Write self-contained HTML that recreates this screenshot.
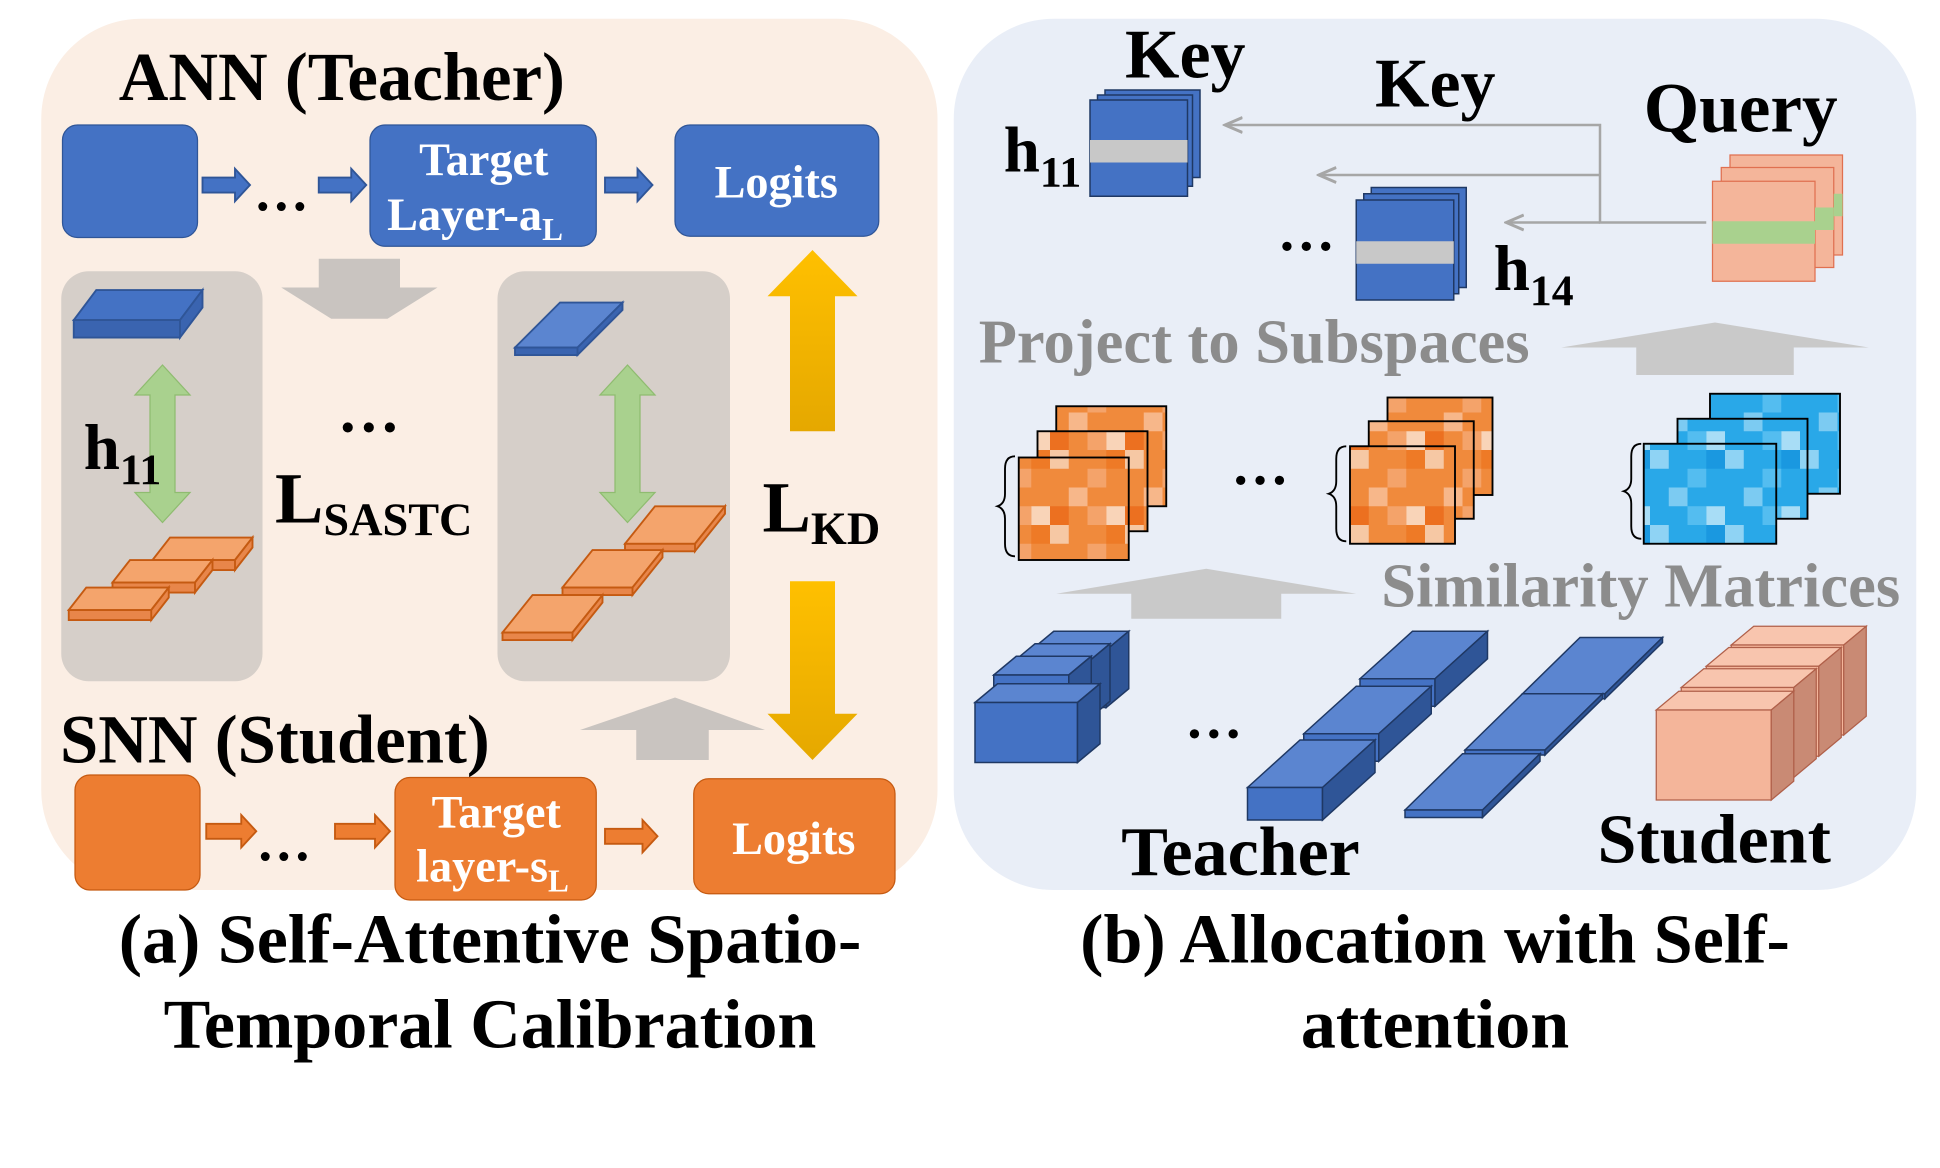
<!DOCTYPE html>
<html><head><meta charset="utf-8"><style>
html,body{margin:0;padding:0;background:#fff;}
svg{display:block;}
text{font-family:"Liberation Serif",serif;font-weight:bold;}
</style></head><body>
<svg width="1940" height="1168" viewBox="0 0 1552 934.4" xmlns="http://www.w3.org/2000/svg">
<defs>
<pattern id="po" width="60" height="60" patternUnits="userSpaceOnUse">
<rect width="60" height="60" fill="#f08a3c"/>
<rect x="0" y="0" width="15" height="15" fill="#f6c8a4"/><rect x="30" y="15" width="15" height="15" fill="#f4a36a"/>
<rect x="45" y="0" width="15" height="15" fill="#ee7a26"/><rect x="15" y="30" width="15" height="15" fill="#f7b78a"/>
<rect x="45" y="45" width="15" height="15" fill="#f9d4b8"/><rect x="0" y="45" width="15" height="15" fill="#ec7020"/>
<rect x="30" y="45" width="15" height="15" fill="#f4a36a"/>
</pattern>
<pattern id="pb" width="60" height="60" patternUnits="userSpaceOnUse">
<rect width="60" height="60" fill="#29a8e8"/>
<rect x="0" y="0" width="15" height="15" fill="#8fd3f4"/><rect x="30" y="15" width="15" height="15" fill="#54bdf0"/>
<rect x="45" y="0" width="15" height="15" fill="#1a98e0"/><rect x="15" y="30" width="15" height="15" fill="#7ccbf2"/>
<rect x="45" y="45" width="15" height="15" fill="#a8ddf6"/><rect x="30" y="45" width="15" height="15" fill="#54bdf0"/>
</pattern>
<linearGradient id="gy" x1="0" y1="0" x2="0" y2="1"><stop offset="0" stop-color="#ffc000"/><stop offset="1" stop-color="#e5a800"/></linearGradient>
<marker id="ma" markerWidth="8" markerHeight="8" refX="7" refY="4" orient="auto"><path d="M0,1 L7,4 L0,7" fill="none" stroke="#a6a6a6" stroke-width="1.2"/></marker>
</defs>
<rect x="33" y="15" width="717" height="697" rx="80" fill="#fbeee4"/>
<rect x="763" y="15" width="770" height="697" rx="80" fill="#e9eef7"/>

<text x="95" y="80" font-size="55">ANN (Teacher)</text>
<rect x="50" y="100" width="108" height="90" rx="12" fill="#4472c4" stroke="#2f5597"/>
<g fill="#4472c4" stroke="#2f5597" stroke-width="1.5">
<path d="M162,142 h26 v-7 l12,13 -12,13 v-7 h-26z"/>
<path d="M255,142 h26 v-7 l12,13 -12,13 v-7 h-26z"/>
<path d="M484,142 h26 v-7 l12,13 -12,13 v-7 h-26z"/>
</g>
<text x="203" y="168" font-size="44">…</text>
<rect x="296" y="100" width="181" height="97" rx="12" fill="#4472c4" stroke="#2f5597"/>
<text x="387" y="140" font-size="37" fill="#fff" text-anchor="middle">Target</text>
<text x="380" y="184" font-size="37" fill="#fff" text-anchor="middle">Layer-a<tspan font-size="25" dy="8">L</tspan></text>
<rect x="540" y="100" width="163" height="89" rx="12" fill="#4472c4" stroke="#2f5597"/>
<text x="621" y="158" font-size="37" fill="#fff" text-anchor="middle">Logits</text>

<path d="M225,230 h125 l-40,25 h-45z M255,207 h65 v23 h-65z" fill="#c9c4c0"/>
<rect x="49" y="217" width="161" height="328" rx="22" fill="#d6cfc9"/>
<rect x="398" y="217" width="186" height="328" rx="22" fill="#d6cfc9"/>
<path d="M59,256 l18,-24 h85 l-18,24z" fill="#4472c4" stroke="#2f5597" stroke-width="1.5"/>
<path d="M59,256 h85 v14 h-85z M144,256 l18,-24 v14 l-18,24z" fill="#3a64b0" stroke="#2f5597" stroke-width="1.5"/>
<path d="M412,278 l36,-36 h50 l-36,36z" fill="#5b85d0" stroke="#2f5597" stroke-width="1.5"/>
<path d="M412,278 h50 v6 h-50z M462,278 l36,-36 v6 l-36,36z" fill="#3a64b0" stroke="#2f5597" stroke-width="1.5"/>
<path d="M130,292 l22,24 h-12 v78 h12 l-22,24 -22,-24 h12 v-78 h-12z" fill="#a9d18e" stroke="#8fbc70"/>
<path d="M502,292 l22,24 h-12 v78 h12 l-22,24 -22,-24 h12 v-78 h-12z" fill="#a9d18e" stroke="#8fbc70"/>
<text x="67" y="375" font-size="52">h<tspan font-size="35" dy="12">11</tspan></text>
<g fill="#f4a46c" stroke="#c55a11" stroke-width="1.5">
<path d="M122,448 l14,-18 h66 l-14,18z"/><path d="M122,448 h66 v8 h-66z M188,448 l14,-18 v8 l-14,18z" fill="#e8864a"/>
<path d="M90,466 l14,-18 h66 l-14,18z"/><path d="M90,466 h66 v8 h-66z M156,466 l14,-18 v8 l-14,18z" fill="#e8864a"/>
<path d="M55,488 l14,-18 h66 l-14,18z"/><path d="M55,488 h66 v8 h-66z M121,488 l14,-18 v8 l-14,18z" fill="#e8864a"/>
<path d="M500,435 l24,-30 h56 l-24,30z"/><path d="M500,435 h56 v6 h-56z M556,435 l24,-30 v6 l-24,30z" fill="#e8864a"/>
<path d="M450,470 l24,-30 h56 l-24,30z"/><path d="M450,470 h56 v6 h-56z M506,470 l24,-30 v6 l-24,30z" fill="#e8864a"/>
<path d="M402,506 l24,-30 h56 l-24,30z"/><path d="M402,506 h56 v6 h-56z M458,506 l24,-30 v6 l-24,30z" fill="#e8864a"/>
</g>
<text x="270" y="345" font-size="50">…</text>
<text x="220" y="418" font-size="58">L<tspan font-size="37" dy="10">SASTC</tspan></text>
<text x="610" y="425" font-size="58">L<tspan font-size="37" dy="10">KD</tspan></text>
<path d="M650,200 l36,37 h-18 v108 h-36 v-108 h-18z" fill="url(#gy)"/>
<path d="M650,608 l36,-37 h-18 v-106 h-36 v106 h-18z" fill="url(#gy)"/>
<path d="M540,558 l72,26 h-45 v24 h-58 v-24 h-45z" fill="#c9c4c0"/>

<text x="48" y="610" font-size="55">SNN (Student)</text>
<rect x="60" y="620" width="100" height="92" rx="12" fill="#ed7d31" stroke="#c55a11"/>
<g fill="#ed7d31" stroke="#c55a11" stroke-width="1.5">
<path d="M165,659 h28 v-7 l12,13 -12,13 v-7 h-28z"/>
<path d="M268,659 h32 v-7 l12,13 -12,13 v-7 h-32z"/>
<path d="M484,663 h30 v-7 l12,13 -12,13 v-7 h-30z"/>
</g>
<text x="205" y="688" font-size="44">…</text>
<rect x="316" y="622" width="161" height="98" rx="12" fill="#ed7d31" stroke="#c55a11"/>
<text x="397" y="662" font-size="37" fill="#fff" text-anchor="middle">Target</text>
<text x="394" y="705" font-size="37" fill="#fff" text-anchor="middle">layer-s<tspan font-size="25" dy="8">L</tspan></text>
<rect x="555" y="623" width="161" height="92" rx="12" fill="#ed7d31" stroke="#c55a11"/>
<text x="635" y="683" font-size="37" fill="#fff" text-anchor="middle">Logits</text>

<text x="392" y="770" font-size="56" text-anchor="middle">(a) Self-Attentive Spatio-</text>
<text x="392" y="838" font-size="56" text-anchor="middle">Temporal Calibration</text>

<text x="900" y="62" font-size="56">Key</text>
<text x="1100" y="85" font-size="56">Key</text>
<text x="1315" y="105" font-size="57">Query</text>
<text x="803" y="137" font-size="52">h<tspan font-size="35" dy="12">11</tspan></text>
<text x="1195" y="232" font-size="52">h<tspan font-size="35" dy="12">14</tspan></text>
<text x="1022" y="200" font-size="46">…</text>
<g stroke="#a6a6a6" stroke-width="2" fill="none">
<path d="M1365,178 H1280 V100 H980" marker-end="url(#ma)"/>
<path d="M1280,140 H1055" marker-end="url(#ma)"/>
<path d="M1280,178 H1205" marker-end="url(#ma)"/>
</g>
<g stroke="#1f3864" stroke-width="1.2">
<rect x="884" y="72" width="76" height="70" fill="#4472c4"/>
<rect x="878" y="76" width="76" height="73" fill="#4472c4"/>
<rect x="872" y="80" width="78" height="77" fill="#4472c4"/>
<rect x="872" y="112" width="78" height="18" fill="#c8c8c8" stroke="none"/>
<rect x="1097" y="150" width="76" height="80" fill="#4472c4"/>
<rect x="1091" y="155" width="76" height="80" fill="#4472c4"/>
<rect x="1085" y="160" width="78" height="80" fill="#4472c4"/>
<rect x="1085" y="193" width="78" height="18" fill="#c8c8c8" stroke="none"/>
</g>
<g stroke="#e07050" stroke-width="1">
<rect x="1384" y="124" width="90" height="80" fill="#f4b59a"/>
<rect x="1377" y="134" width="90" height="80" fill="#f4b59a"/>
<rect x="1370" y="145" width="82" height="80" fill="#f4b59a"/>
<rect x="1370" y="177" width="82" height="18" fill="#a9d18e" stroke="none"/>
<rect x="1452" y="166" width="15" height="18" fill="#a9d18e" stroke="none"/>
<rect x="1467" y="155" width="7" height="18" fill="#a9d18e" stroke="none"/>
</g>
<text x="783" y="290" font-size="50" fill="#8c8c8c">Project to Subspaces</text>
<path d="M1372,258 l123,20 h-60 v22 h-126 v-22 h-60z" fill="#c9c9c9"/>

<g stroke="#000" stroke-width="1.5">
<rect x="845" y="325" width="88" height="80" fill="url(#po)"/>
<rect x="830" y="345" width="88" height="80" fill="url(#po)"/>
<rect x="815" y="366" width="88" height="82" fill="url(#po)"/>
<rect x="1110" y="318" width="84" height="78" fill="url(#po)"/>
<rect x="1095" y="337" width="84" height="78" fill="url(#po)"/>
<rect x="1080" y="357" width="84" height="78" fill="url(#po)"/>
<rect x="1368" y="315" width="104" height="80" fill="url(#pb)"/>
<rect x="1342" y="335" width="104" height="80" fill="url(#pb)"/>
<rect x="1315" y="355" width="106" height="80" fill="url(#pb)"/>
</g>
<g fill="none" stroke="#000" stroke-width="1.5">
<path d="M812,365 q-8,0 -8,10 v20 q0,8 -6,10 q6,2 6,10 v20 q0,10 8,10"/>
<path d="M1077,357 q-8,0 -8,10 v18 q0,8 -6,10 q6,2 6,10 v18 q0,10 8,10"/>
<path d="M1313,355 q-8,0 -8,10 v18 q0,8 -6,10 q6,2 6,10 v18 q0,10 8,10"/>
</g>
<text x="985" y="387" font-size="46">…</text>
<path d="M965,455 l120,20 h-60 v20 h-120 v-20 h-60z" fill="#c9c9c9"/>
<text x="1105" y="485" font-size="50" fill="#8c8c8c">Similarity Matrices</text>

<g stroke="#1f3864" stroke-width="1.2">
<g transform="translate(45,-30)"><path d="M780,550 l18,-15 h60 l-18,15z" fill="#5b85d0"/><rect x="780" y="550" width="60" height="46" fill="#4472c4"/><path d="M840,550 l18,-15 v46 l-18,15z" fill="#2f5597"/></g>
<g transform="translate(30,-20)"><path d="M780,550 l18,-15 h60 l-18,15z" fill="#5b85d0"/><rect x="780" y="550" width="60" height="46" fill="#4472c4"/><path d="M840,550 l18,-15 v46 l-18,15z" fill="#2f5597"/></g>
<g transform="translate(15,-10)"><path d="M780,550 l18,-15 h60 l-18,15z" fill="#5b85d0"/><rect x="780" y="550" width="60" height="46" fill="#4472c4"/><path d="M840,550 l18,-15 v46 l-18,15z" fill="#2f5597"/></g>
<path d="M780,562 l18,-15 h82 l-18,15z" fill="#5b85d0"/><rect x="780" y="562" width="82" height="48" fill="#4472c4"/><path d="M862,562 l18,-15 v48 l-18,15z" fill="#2f5597"/>
<path d="M1088,543 l42,-38 h60 l-42,38z" fill="#5b85d0"/><path d="M1088,543 h60 v22 h-60z" fill="#4472c4"/><path d="M1148,543 l42,-38 v22 l-42,38z" fill="#2f5597"/>
<path d="M1043,587 l42,-38 h60 l-42,38z" fill="#5b85d0"/><path d="M1043,587 h60 v22 h-60z" fill="#4472c4"/><path d="M1103,587 l42,-38 v22 l-42,38z" fill="#2f5597"/>
<path d="M998,630 l42,-38 h60 l-42,38z" fill="#5b85d0"/><path d="M998,630 h60 v26 h-60z" fill="#4472c4"/><path d="M1058,630 l42,-38 v26 l-42,38z" fill="#2f5597"/>
<path d="M1218,555 l46,-45 h66 l-46,45z" fill="#5b85d0"/><path d="M1218,555 h66 v4 h-66z" fill="#4472c4"/><path d="M1284,555 l46,-45 v4 l-46,45z" fill="#2f5597"/>
<path d="M1172,600 l46,-45 h64 l-46,45z" fill="#5b85d0"/><path d="M1172,600 h64 v4 h-64z" fill="#4472c4"/><path d="M1236,600 l46,-45 v4 l-46,45z" fill="#2f5597"/>
<path d="M1124,648 l46,-45 h62 l-46,45z" fill="#5b85d0"/><path d="M1124,648 h62 v6 h-62z" fill="#4472c4"/><path d="M1186,648 l46,-45 v6 l-46,45z" fill="#2f5597"/>
</g>
<text x="948" y="590" font-size="46">…</text>
<g stroke="#b0604a" stroke-width="1">
<g transform="translate(60,-52)"><path d="M1325,568 l18,-15 h90 l-18,15z" fill="#f8c5ae"/><rect x="1325" y="568" width="90" height="72" fill="#f4b59a"/><path d="M1415,568 l18,-15 v72 l-18,15z" fill="#c98a74"/></g>
<g transform="translate(40,-35)"><path d="M1325,568 l18,-15 h90 l-18,15z" fill="#f8c5ae"/><rect x="1325" y="568" width="90" height="72" fill="#f4b59a"/><path d="M1415,568 l18,-15 v72 l-18,15z" fill="#c98a74"/></g>
<g transform="translate(20,-18)"><path d="M1325,568 l18,-15 h90 l-18,15z" fill="#f8c5ae"/><rect x="1325" y="568" width="90" height="72" fill="#f4b59a"/><path d="M1415,568 l18,-15 v72 l-18,15z" fill="#c98a74"/></g>
<path d="M1325,568 l18,-15 h92 l-18,15z" fill="#f8c5ae"/><rect x="1325" y="568" width="92" height="72" fill="#f4b59a"/><path d="M1417,568 l18,-15 v72 l-18,15z" fill="#c98a74"/>
</g>
<text x="897" y="700" font-size="56">Teacher</text>
<text x="1278" y="690" font-size="56">Student</text>

<text x="1148" y="770" font-size="56" text-anchor="middle">(b) Allocation with Self-</text>
<text x="1148" y="838" font-size="56" text-anchor="middle">attention</text>
</svg>
</body></html>
